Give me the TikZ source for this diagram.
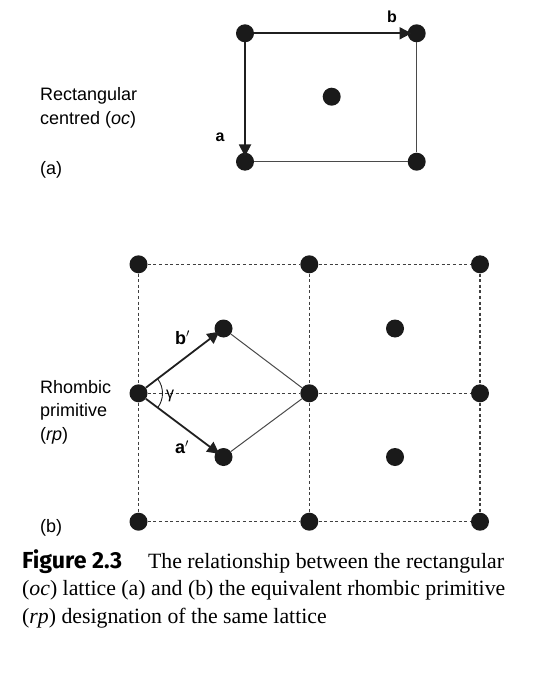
\documentclass[tikz,border=0pt]{standalone}
\usepackage{fontspec}
\setmainfont{Liberation Serif}
\newfontfamily\arialf{Liberation Sans}
\newfontfamily\capsans{Fira Sans}
\usetikzlibrary{arrows.meta}
\definecolor{dotc}{HTML}{1A1A1A}
\definecolor{arrc}{HTML}{1F1F1F}
\definecolor{thinc}{HTML}{4A4A4A}
\definecolor{dashc}{HTML}{404040}
\tikzset{
  lattdot/.style={circle,fill=dotc,inner sep=0pt,minimum size=18pt},
  vecarrow/.style={draw=arrc,line width=1.8pt,-{Triangle[length=12pt,width=12pt]},shorten >=-4pt},
  thinline/.style={draw=thinc,line width=1pt},
  gridline/.style={draw=dashc,line width=1.1pt,dash pattern=on 3pt off 2.6pt},
  sidelabel/.style={font=\arialf\fontsize{18}{22}\selectfont,anchor=base west,inner sep=0pt},
  veclabA/.style={font=\arialf\bfseries\fontsize{16}{18}\selectfont,anchor=base west,inner sep=0pt},
  veclabB/.style={font=\arialf\bfseries\fontsize{18}{20}\selectfont,anchor=base west,inner sep=0pt},
  capline/.style={font=\fontsize{21.8}{26}\selectfont,anchor=base west,inner sep=0pt}
}
\begin{document}
\begin{tikzpicture}[x=1pt,y=-1pt]
\useasboundingbox (0,0) rectangle (534,676);
% ---------- (a) ----------
\node[lattdot] (a1) at (245,33.3) {};
\node[lattdot] (a2) at (416.7,33.3) {};
\node[lattdot] (a3) at (245,161.7) {};
\node[lattdot] (a4) at (416.7,161.7) {};
\node[lattdot] (ac) at (331.7,96.7) {};
\draw[thinline] (a2) -- (a4);
\draw[thinline] (a3) -- (a4);
\draw[vecarrow] (a1) -- (a2);
\draw[vecarrow] (a1) -- (a3);
\node[veclabA] (lb) at (387,22.7) {b};
\node[veclabA] (la) at (215.5,141.7) {a};
\node[sidelabel] (t1) at (40,100.7) {Rectangular};
\node[sidelabel] (t2) at (40,124.3) {centred (\itshape oc\/\upshape)};
\node[sidelabel] (t3) at (40,175) {(a)};
% ---------- (b) ----------
\foreach \r/\yy in {1/264.3,2/393.3,3/521.7}{
  \foreach \c/\xx in {1/138.5,2/309.3,3/480}{
    \node[lattdot] (g\r\c) at (\xx,\yy) {};
  }
}
\node[lattdot] (c1) at (223.5,328.5) {};
\node[lattdot] (c2) at (395,328.5) {};
\node[lattdot] (c3) at (223.5,457) {};
\node[lattdot] (c4) at (395,457) {};
\foreach \r in {1,2,3}{
  \draw[gridline] (g\r1) -- (g\r2);
  \draw[gridline] (g\r2) -- (g\r3);
  \draw[gridline] (g1\r) -- (g2\r);
  \draw[gridline] (g2\r) -- (g3\r);
}
\draw[thinline] (c1) -- (g22);
\draw[thinline] (c3) -- (g22);
\draw[vecarrow] (g21) -- (c1);
\draw[vecarrow] (g21) -- (c3);
\draw[draw=arrc,line width=0.9pt] ([shift={(-37:24pt)}]g21.center) arc[start angle=-37,end angle=37,radius=24pt];
\node[font=\arialf\fontsize{16}{17}\selectfont,inner sep=0pt] (gam) at (170,395.5) {γ};
\node[veclabB] (lbp) at (175,344) {b$'$};
\node[veclabB] (lap) at (175,453.3) {a$'$};
\node[sidelabel] (r1) at (40,393.3) {Rhombic};
\node[sidelabel] (r2) at (40,416.8) {primitive};
\node[sidelabel] (r3) at (40,440.5) {(\itshape rp\/\upshape)};
\node[sidelabel] (r4) at (40,532) {(b)};
% ---------- caption ----------
\node[capline] (cap1) at (22,568) {{\capsans\bfseries\fontsize{23.2}{26}\selectfont Figure 2.3}\hspace{26pt}The relationship between the rectangular};
\node[capline] (cap2) at (22,595.5) {(\textit{oc}) lattice (a) and (b) the equivalent rhombic primitive};
\node[capline] (cap3) at (22,623) {(\textit{rp}) designation of the same lattice};
\end{tikzpicture}
\end{document}
